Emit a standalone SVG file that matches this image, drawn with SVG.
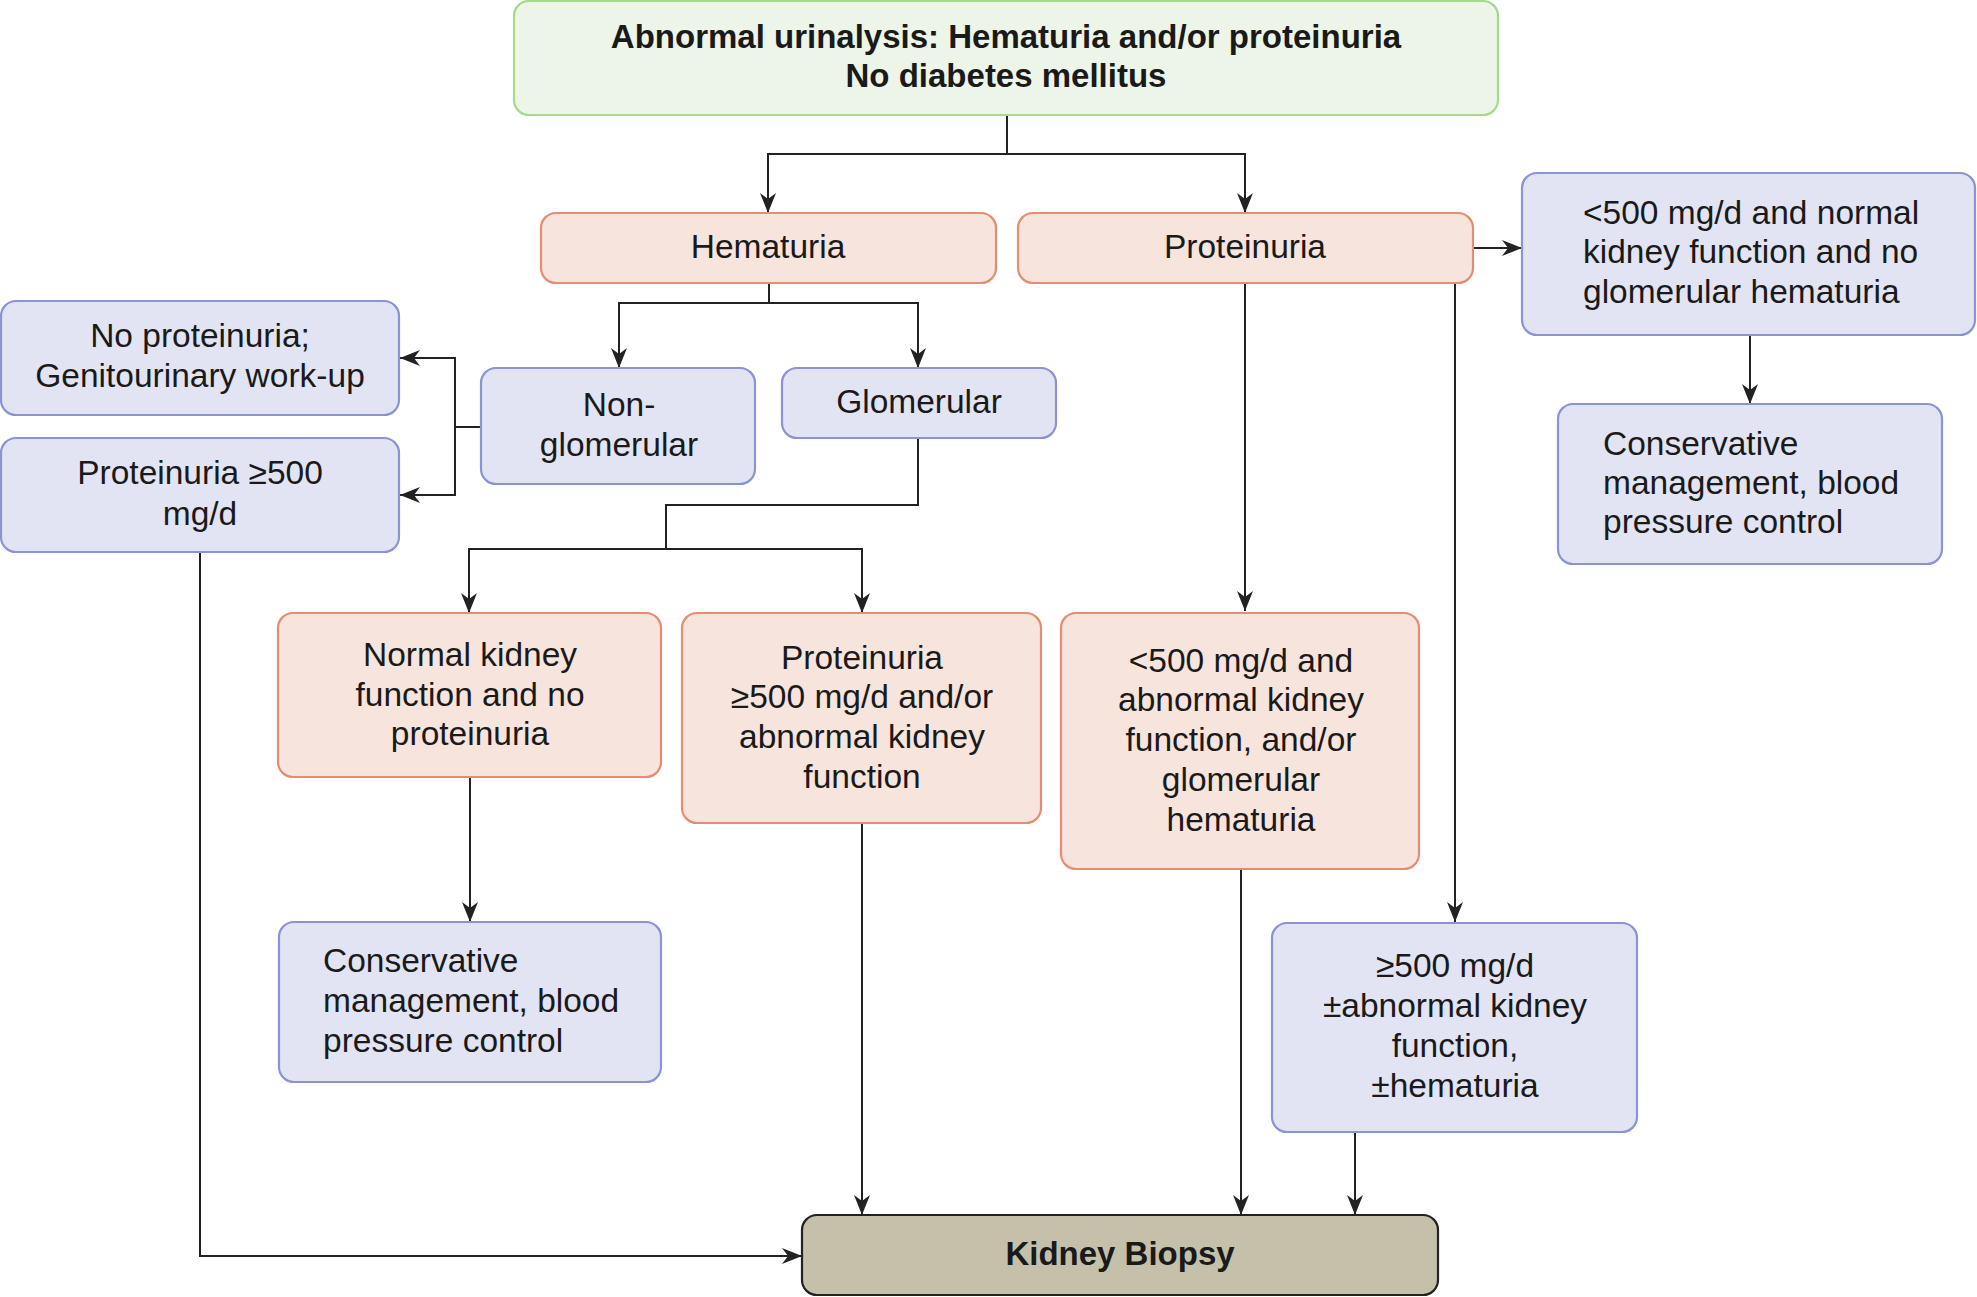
<svg xmlns="http://www.w3.org/2000/svg" width="1977" height="1297" viewBox="0 0 1977 1297">
<style>
text{font-family:"Liberation Sans",Arial,sans-serif;font-size:33.5px;fill:#1a1a1a}
.c{text-anchor:middle}
.b{font-weight:bold;font-size:33px}
.g{fill:#edf5e8;stroke:#a6d98f;stroke-width:2.2}
.s{fill:#f7e4dc;stroke:#e58c72;stroke-width:2.2}
.u{fill:#e2e4f4;stroke:#8b93d3;stroke-width:2.2}
.k{fill:#c5c0aa;stroke:#222;stroke-width:2.2}
.ln{fill:none;stroke:#222;stroke-width:2}
</style>
<defs>
<marker id="ah" viewBox="-20 -8 20 16" refX="0" refY="0" markerWidth="20" markerHeight="16" markerUnits="userSpaceOnUse" orient="auto">
<path d="M0,0 L-20,-8 L-14,0 L-20,8 Z" fill="#222"/>
</marker>
</defs>
<g id="connectors">
<path class="ln" d="M1007,115 V154 H768 V213" marker-end="url(#ah)"/>
<path class="ln" d="M1007,154 H1245 V213" marker-end="url(#ah)"/>
<path class="ln" d="M769,283 V303 H619 V368" marker-end="url(#ah)"/>
<path class="ln" d="M769,303 H918 V368" marker-end="url(#ah)"/>
<path class="ln" d="M481,427 H455 V358 H400" marker-end="url(#ah)"/>
<path class="ln" d="M455,427 V495 H400" marker-end="url(#ah)"/>
<path class="ln" d="M918,438 V505 H666 V549 H469 V613" marker-end="url(#ah)"/>
<path class="ln" d="M666,549 H862 V613" marker-end="url(#ah)"/>
<path class="ln" d="M1245,283 V611" marker-end="url(#ah)"/>
<path class="ln" d="M1455,283 V922" marker-end="url(#ah)"/>
<path class="ln" d="M1473,248 H1522" marker-end="url(#ah)"/>
<path class="ln" d="M1750,335 V404" marker-end="url(#ah)"/>
<path class="ln" d="M470,777 V922" marker-end="url(#ah)"/>
<path class="ln" d="M862,823 V1215" marker-end="url(#ah)"/>
<path class="ln" d="M1241,869 V1215" marker-end="url(#ah)"/>
<path class="ln" d="M1355,1132 V1215" marker-end="url(#ah)"/>
<path class="ln" d="M200,552 V1256 H802" marker-end="url(#ah)"/>
</g>
<g id="top">
<rect class="g" x="514" y="1" width="984" height="114" rx="15"/>
<text class="c b" x="1006" y="48">Abnormal urinalysis: Hematuria and/or proteinuria</text>
<text class="c b" x="1006" y="87">No diabetes mellitus</text>
</g>
<g id="hematuria">
<rect class="s" x="541" y="213" width="455" height="70" rx="15"/>
<text class="c" x="768" y="258">Hematuria</text>
</g>
<g id="proteinuria">
<rect class="s" x="1018" y="213" width="455" height="70" rx="15"/>
<text class="c" x="1245" y="258">Proteinuria</text>
</g>
<g id="no-proteinuria">
<rect class="u" x="1" y="301" width="398" height="114" rx="15"/>
<text class="c" x="200" y="347">No proteinuria;</text>
<text class="c" x="200" y="387">Genitourinary work-up</text>
</g>
<g id="proteinuria-500">
<rect class="u" x="1" y="438" width="398" height="114" rx="15"/>
<text class="c" x="200" y="484">Proteinuria ≥500</text>
<text class="c" x="200" y="525">mg/d</text>
</g>
<g id="non-glomerular">
<rect class="u" x="481" y="368" width="274" height="116" rx="15"/>
<text class="c" x="619" y="416">Non-</text>
<text class="c" x="619" y="456">glomerular</text>
</g>
<g id="glomerular">
<rect class="u" x="782" y="368" width="274" height="70" rx="15"/>
<text class="c" x="919" y="413">Glomerular</text>
</g>
<g id="right-normal">
<rect class="u" x="1522" y="173" width="453" height="162" rx="15"/>
<text x="1583" y="224">&lt;500 mg/d and normal</text>
<text x="1583" y="263">kidney function and no</text>
<text x="1583" y="303">glomerular hematuria</text>
</g>
<g id="right-conservative">
<rect class="u" x="1558" y="404" width="384" height="160" rx="15"/>
<text x="1603" y="455">Conservative</text>
<text x="1603" y="494">management, blood</text>
<text x="1603" y="533">pressure control</text>
</g>
<g id="normal-kidney">
<rect class="s" x="278" y="613" width="383" height="164" rx="15"/>
<text class="c" x="470" y="666">Normal kidney</text>
<text class="c" x="470" y="706">function and no</text>
<text class="c" x="470" y="745">proteinuria</text>
</g>
<g id="proteinuria-abnormal">
<rect class="s" x="682" y="613" width="359" height="210" rx="15"/>
<text class="c" x="862" y="669">Proteinuria</text>
<text class="c" x="862" y="708">≥500 mg/d and/or</text>
<text class="c" x="862" y="748">abnormal kidney</text>
<text class="c" x="862" y="788">function</text>
</g>
<g id="lt500-abnormal">
<rect class="s" x="1061" y="613" width="358" height="256" rx="15"/>
<text class="c" x="1241" y="672">&lt;500 mg/d and</text>
<text class="c" x="1241" y="711">abnormal kidney</text>
<text class="c" x="1241" y="751">function, and/or</text>
<text class="c" x="1241" y="791">glomerular</text>
<text class="c" x="1241" y="831">hematuria</text>
</g>
<g id="left-conservative">
<rect class="u" x="279" y="922" width="382" height="160" rx="15"/>
<text x="323" y="972">Conservative</text>
<text x="323" y="1012">management, blood</text>
<text x="323" y="1052">pressure control</text>
</g>
<g id="ge500">
<rect class="u" x="1272" y="923" width="365" height="209" rx="15"/>
<text class="c" x="1455" y="977">≥500 mg/d</text>
<text class="c" x="1455" y="1017">±abnormal kidney</text>
<text class="c" x="1455" y="1057">function,</text>
<text class="c" x="1455" y="1097">±hematuria</text>
</g>
<g id="biopsy">
<rect class="k" x="802" y="1215" width="636" height="80" rx="15"/>
<text class="c b" x="1120" y="1265">Kidney Biopsy</text>
</g>
</svg>
